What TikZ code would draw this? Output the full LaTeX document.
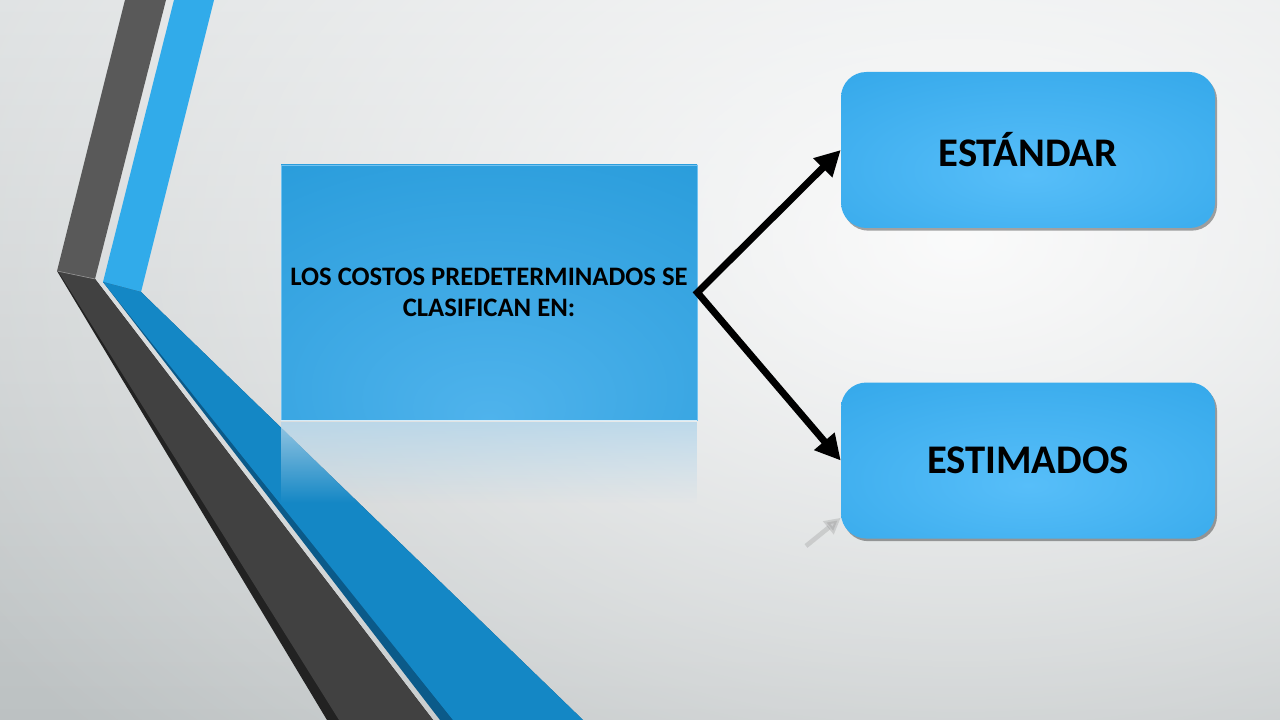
\documentclass[tikz,border=0pt]{standalone}
\usepackage{fontspec}
\setmainfont{Carlito}
\usepackage{tikz}
\usetikzlibrary{positioning,%
  arrows.meta,%
  shadows,%
  fadings
}
\definecolor{fondoarriba}{HTML}{DDE0E1}
\definecolor{fondoabajo}{HTML}{BCC1C2}
\definecolor{grisalto}{HTML}{595959}
\definecolor{grisbajo}{HTML}{414141}
\definecolor{grisborde}{HTML}{222222}
\definecolor{azulalto}{HTML}{31ABEA}
\definecolor{azulbajo}{HTML}{1487C5}
\definecolor{azulborde}{HTML}{0B5A89}
\definecolor{cuadroborde}{HTML}{2298D8}
\definecolor{cuadromedio}{HTML}{4FB3EC}
\definecolor{cajaborde}{HTML}{29A1E5}
\definecolor{cajamedio}{HTML}{57BEF9}
\definecolor{reflejo}{HTML}{B3D5EA}
\pgfdeclareradialshading{brillo}{\pgfpoint{0bp}{-25bp}}{%
  color(0bp)=(cuadromedio); color(55bp)=(cuadroborde); color(90bp)=(cuadroborde)}
\pgfdeclareradialshading{brillocaja}{\pgfpoint{0bp}{-8bp}}{%
  color(0bp)=(cajamedio); color(52bp)=(cajaborde); color(80bp)=(cajaborde)}
\tikzfading[name=halo, inner color=transparent!0, outer color=transparent!100]
\begin{document}
\begin{tikzpicture}[x=0.75pt,y=-0.75pt,
            principal/.style={shading=brillo, draw=cuadromedio!80!white,
                line width=.6pt, minimum width=312pt, minimum height=191.25pt,
                align=center, font=\bfseries\fontsize{20}{23.5}\selectfont},
            caja/.style={shading=brillocaja, rounded corners=19pt,
                minimum width=280.5pt, minimum height=117pt,
                font=\bfseries\fontsize{30.5}{34}\selectfont,
                drop shadow={shadow xshift=1.5pt, shadow yshift=-2pt,
                    opacity=.35, fill=black}},
            flecha/.style={{Triangle[length=19pt,width=19pt]}-{Triangle[length=19pt,width=19pt]},
                line width=5.2pt, miter limit=20}]
            \useasboundingbox (0,0) rectangle (1280,720);
            \shade[top color=fondoarriba, bottom color=fondoabajo]
                (0,0) rectangle (1280,720);
            \fill[white, opacity=.9, path fading=halo]
                (960,240) ellipse [x radius=1150, y radius=760];
            \fill[grisalto] (125,0) -- (166,0) -- (95,279) -- (57,271) -- cycle;
            \fill[grisborde] (57,271) -- (95,279) -- (433,720) -- (327,720) -- cycle;
            \fill[grisbajo] (58,271) -- (95,279) -- (433,720) -- (339,720) -- cycle;
            \draw[white, opacity=.5, line width=.4pt] (57,271) -- (95,279);
            \fill[azulalto] (174,0) -- (214,0) -- (141,292) -- (103,282) -- cycle;
            \fill[azulborde] (103,282) -- (141,292) -- (583,720) -- (440,720) -- cycle;
            \fill[azulbajo] (103,282) -- (141,292) -- (583,720) -- (453,720) -- cycle;
            \node[principal] (costos) at (489,292.5)
                {LOS COSTOS PREDETERMINADOS SE\\CLASIFICAN EN:};
            \fill[reflejo, opacity=.8, path fading=south]
                ([yshift=-1.5pt]costos.south west) rectangle
                ([yshift=-62pt]costos.south east);
            \draw[white, opacity=.7, line width=.8pt]
                (costos.south west) -- (costos.south east);
            \node[caja] (est) at (1028,150) {ESTÁNDAR};
            \node[caja, below=115.5pt of est] (estim) {ESTIMADOS};
            \coordinate (sombra) at (806,546);
            \draw[gray, opacity=.25, line width=3.5pt, -{Triangle[length=12pt,width=12pt]}]
                (sombra) -- ([yshift=15.75pt]estim.south west);
            \draw[flecha] (est.west) -- (costos.east) -- (estim.west);
        \end{tikzpicture}
\end{document}
